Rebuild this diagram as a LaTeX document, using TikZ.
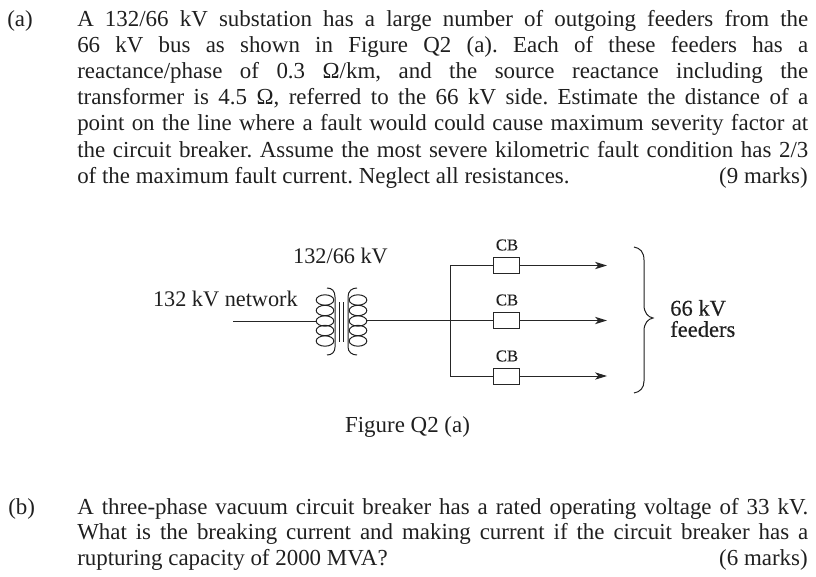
\documentclass[tikz,border=0pt]{standalone}
\usepackage{fontspec}
\setmainfont{Liberation Serif}
\newfontfamily\heavyserif[FakeBold=0.25]{Liberation Serif}
\usetikzlibrary{arrows.meta,decorations.pathreplacing,calc}
\newcommand{\jline}[1]{\makebox[548.25pt][s]{\frenchspacing #1}}
\tikzset{
 txt/.style={anchor=base west,inner sep=0pt,font=\fontsize{17.2}{20}\selectfont\frenchspacing,text=black!88},
 lbl/.style={inner sep=0pt,font=\fontsize{16.7}{20}\selectfont,text=black!88},
 heavylbl/.style={inner sep=0pt,font=\heavyserif\fontsize{16.9}{20}\selectfont,text=black!88},
 cblbl/.style={inner sep=0pt,font=\heavyserif\fontsize{12.5}{14}\selectfont,text=black!88},
 wire/.style={draw=black!85,line width=0.75pt},
 feeder/.style={wire,-{Stealth[length=9pt,width=5.5pt,inset=2.5pt]}},
 cb/.style={draw=black!85,fill=white,line width=0.75pt,minimum width=20pt,minimum height=12pt,inner sep=0pt},
 coil/.style={draw=black!88,line width=0.75pt},
}
\begin{document}
\begin{tikzpicture}[x=0.75pt,y=-0.75pt]
\useasboundingbox (0,0) rectangle (816,577);
% Text of part (a)
\node[txt] (pa) at (7,26.5) {(a)};
\node[txt] (l1) at (77,26.5) {\jline{A 132/66 kV substation has a large number of outgoing feeders from the}};
\node[txt] (l2) at (77,52.5) {\jline{66 kV bus as shown in Figure Q2 (a). Each of these feeders has a}};
\node[txt] (l3) at (77,78.5) {\jline{reactance/phase of 0.3 Ω/km, and the source reactance including the}};
\node[txt] (l4) at (77,105) {\jline{transformer is 4.5 Ω, referred to the 66 kV side. Estimate the distance of a}};
\node[txt] (l5) at (77,131) {\jline{point on the line where a fault would could cause maximum severity factor at}};
\node[txt] (l6) at (77,157.5) {\jline{the circuit breaker. Assume the most severe kilometric fault condition has 2/3}};
\node[txt] (l7) at (77,184) {of the maximum fault current. Neglect all resistances.};
\node[txt,anchor=base east] (m1) at (808,184) {(9 marks)};
% Diagram labels
\node[lbl] (tr) at (340.5,256) {132/66 kV};
\node[lbl,anchor=east] (net) at (298,299) {132 kV network};
\node[lbl,font=\fontsize{17.2}{20}\selectfont] (fig) at (407.5,427) {Figure Q2 (a)};
\node[heavylbl,anchor=west] (kv) at (670,308) {66 kV};
\node[heavylbl,anchor=west] (fd) at (670,329) {feeders};
\node[cblbl] (c1) at (507,245) {CB};
\node[cblbl] (c2) at (507,300) {CB};
\node[cblbl] (c3) at (507,356) {CB};
% Transformer
\foreach \y in {300,310.5,321,330.5,341}{
  \draw[coil] (325,\y) ellipse (8.8 and 5.2);
  \draw[coil] (358,\y) ellipse (8.8 and 5.2);
}
\draw[coil] (327,288) .. controls (332,288) and (335,291) .. (335,297) -- (335,347) .. controls (335,352) and (332,355) .. (327,355);
\draw[coil] (357,288) .. controls (352,288) and (348,291) .. (348,297) -- (348,347) .. controls (348,352) and (352,355) .. (357,355);
\draw[coil] (339,302) -- (339,342);
\draw[coil] (343,302) -- (343,342);
\coordinate (tl) at (316,321);
\coordinate (tr0) at (367,320.5);
\coordinate (in) at (233,321);
% Bus and feeders
\coordinate (bt) at (450,265.5);
\coordinate (bm) at (450,320.5);
\coordinate (bb) at (450,376);
\node[cb] (b1) at (506.5,265.5) {};
\node[cb] (b2) at (506.5,320.5) {};
\node[cb] (b3) at (506.5,376) {};
\coordinate (e1) at (607,265.5);
\coordinate (e2) at (607,320.5);
\coordinate (e3) at (607,376);
\draw[wire] (in) -- (tl);
\draw[wire] (tr0) -- (bm);
\draw[wire] (b1.west) -- (bt) -- (bb) -- (b3.west);
\draw[wire] (bm) -- (b2.west);
\draw[feeder] (b1.east) -- (e1);
\draw[feeder] (b2.east) -- (e2);
\draw[feeder] (b3.east) -- (e3);
% Brace
\draw[coil] (634,247) .. controls (640,248) and (644,252) .. (644,260) -- (644,305) .. controls (644,313) and (648,317) .. (653,318) .. controls (648,319) and (644,323) .. (644,331) -- (644,381) .. controls (644,388) and (640,392) .. (634,393);
% Text of part (b)
\node[txt] (pb) at (8,514) {(b)};
\node[txt] (n1) at (77,514) {\jline{A three-phase vacuum circuit breaker has a rated operating voltage of 33 kV.}};
\node[txt] (n2) at (77,539.5) {\jline{What is the breaking current and making current if the circuit breaker has a}};
\node[txt] (n3) at (77,565) {rupturing capacity of 2000 MVA?};
\node[txt,anchor=base east] (m2) at (808,565) {(6 marks)};
\end{tikzpicture}
\end{document}
